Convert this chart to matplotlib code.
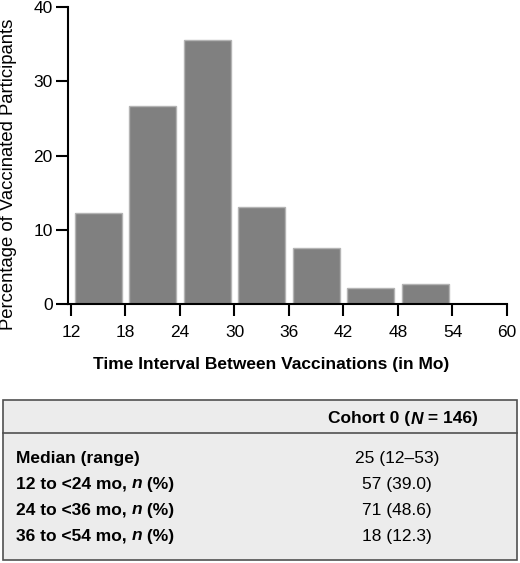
import matplotlib
matplotlib.use("Agg")
import matplotlib.pyplot as plt
from matplotlib.patches import Rectangle

plt.rcParams['font.family'] = ['Liberation Sans', 'DejaVu Sans']

# histogram data: 6-month bins, percent of 146 participants
bin_left = [12, 18, 24, 30, 36, 42, 48]
percent = [12.3, 26.7, 35.6, 13.0, 7.5, 2.1, 2.7]
x_ticks = [12, 18, 24, 30, 36, 42, 48, 54, 60]
y_ticks = [0, 10, 20, 30, 40]

# summary table
header = [("Cohort 0 (", "bold", "normal"), ("N", "bold", "italic"), (" = 146)", "bold", "normal")]
row_labels = [
    [("Median (range)", "bold", "normal")],
    [("12 to <24 mo, ", "bold", "normal"), ("n", "bold", "italic"), (" (%)", "bold", "normal")],
    [("24 to <36 mo, ", "bold", "normal"), ("n", "bold", "italic"), (" (%)", "bold", "normal")],
    [("36 to <54 mo, ", "bold", "normal"), ("n", "bold", "italic"), (" (%)", "bold", "normal")],
]
row_values = ["25 (12\u201353)", "57 (39.0)", "71 (48.6)", "18 (12.3)"]

W, H = 520, 563
FS = 12.5
fig = plt.figure(figsize=(W / 100, H / 100), dpi=100)


def px(x, y):
    return x / W, 1 - y / H


ax = fig.add_axes([68 / W, 1 - 304 / H, 439 / W, 297 / H])
centers = [b + 3 for b in bin_left]
ax.bar(centers, percent, width=5.2, color='#808080', edgecolor='#b4b4b4', linewidth=1)
ax.set_xlim(11.67, 60)
ax.set_ylim(0, 40)
ax.set_xticks(x_ticks)
ax.set_yticks(y_ticks)
for s in ['top', 'right']:
    ax.spines[s].set_visible(False)
for s in ['left', 'bottom']:
    ax.spines[s].set_linewidth(1.5)
ax.tick_params(axis='both', direction='out', length=8.5, width=1.5, labelsize=FS)
ax.tick_params(axis='x', pad=6.5)
ax.tick_params(axis='y', pad=2.5)

fig.text(*px(8.5, 174), 'Percentage of Vaccinated Participants', rotation=90,
         ha='center', va='center', fontsize=13.3)
fig.text(*px(271.5, 364), 'Time Interval Between Vaccinations (in Mo)',
         ha='center', va='center', fontsize=FS, fontweight='bold')

# table box
fig.patches.append(Rectangle(px(3, 560), 514 / W, 160 / H, transform=fig.transFigure,
                             facecolor='#ececec', edgecolor='#505050', linewidth=1.2))
fig.lines.append(plt.Line2D([3 / W, 517 / W], [1 - 433 / H] * 2, transform=fig.transFigure,
                            color='#505050', linewidth=1.2))

renderer = fig.canvas.get_renderer()


def draw_runs(x, y, runs, ha='left', size=FS):
    # draw text pieces with mixed styles next to each other
    texts = []
    for txt, weight, style in runs:
        t = fig.text(0, 0, txt, fontsize=size, fontweight=weight, fontstyle=style, va='center')
        texts.append(t)
    widths = [t.get_window_extent(renderer).width for t in texts]
    start = x if ha == 'left' else x - sum(widths) / 2
    for t, w in zip(texts, widths):
        t.set_position(px(start, y))
        start += w


draw_runs(403, 419, header, ha='center')
row_y = [458, 484, 510, 536]
for y, lab, val in zip(row_y, row_labels, row_values):
    draw_runs(16, y, lab)
    draw_runs(397, y, [(val, 'normal', 'normal')], ha='center')

fig.savefig('out.png', dpi=100)
